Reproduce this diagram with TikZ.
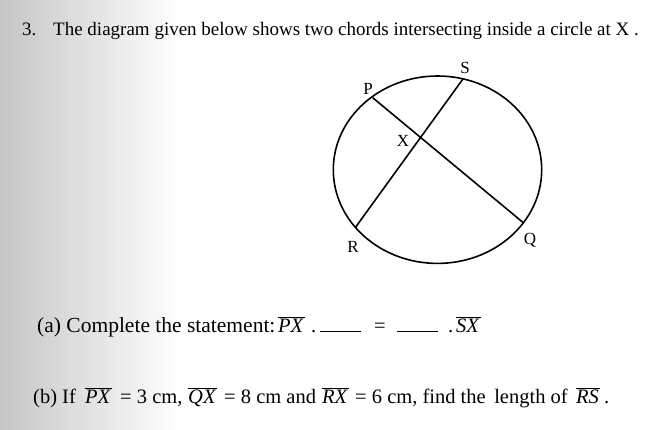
\documentclass[tikz,border=0pt]{standalone}
\usepackage{fontspec}
\setmainfont{Liberation Serif}
\usetikzlibrary{positioning}
\tikzstyle{chord} = [line width=1.6pt]
\tikzstyle{ptlabel} = [inner sep=0pt, font=\fontsize{17}{17}\selectfont]
\tikzstyle{txt} = [anchor=base west, inner sep=0pt, font=\fontsize{19}{21}\selectfont]
\tikzstyle{part} = [anchor=base west, inner sep=0pt, font=\fontsize{20.5}{23}\selectfont]
\newcommand{\seg}[1]{$\overline{\mbox{\textit{#1}\kern1pt}}$}
\newcommand{\blank}{\rule{41pt}{1.2pt}}

\begin{document}
\begin{tikzpicture}[x=1pt, y=-1pt]
    \useasboundingbox (0,0) rectangle (656,429);
    % shadow of the photo on the left
    \shade[left color=gray!45, right color=white] (0,0) rectangle (180,429);

    % Question
    \node[txt] (num) at (22,35) {3.};
    \node[txt] (quest) at (53,35) {The diagram given below shows two chords intersecting inside a circle at X .};

    % Define points on the circle
    \coordinate (C) at (437.5,169.7);
    \coordinate (P) at (372.7,97.7);
    \coordinate (S) at (462.7,79.3);
    \coordinate (R) at (355.5,227.3);
    \coordinate (Q) at (523.3,222.7);
    \coordinate (X) at (intersection of P--Q and R--S);

    % Circle and chords
    \draw[chord] (C) ellipse [x radius=104.2, y radius=93.7];
    \draw[chord] (P) -- (Q);
    \draw[chord] (R) -- (S);

    % Point labels
    \node[ptlabel] (lP) at (368,89) {P};
    \node[ptlabel] (lS) at (465,68) {S};
    \node[ptlabel] (lX) at (403,141) {X};
    \node[ptlabel] (lR) at (353,247) {R};
    \node[ptlabel] (lQ) at (530,240) {Q};

    % Part (a)
    \node[part, font=\fontsize{21.5}{23}\selectfont] (a1) at (37,332) {(a) Complete the statement:};
    \node[part] (a1s) at (278,332) {\seg{PX}};
    \node[part] (a2) at (311,332) {.};
    \node[part] (a3) at (320,332) {\blank};
    \node[part] (a4) at (374,332) {=};
    \node[part] (a5) at (397,332) {\blank};
    \node[part] (a6) at (448,332) {.};
    \node[part] (a7) at (456,332) {\seg{SX}};

    % Part (b)
    \node[part] (b1) at (33,403) {(b) If};
    \node[part] (b2) at (85,403) {\seg{PX}};
    \node[part] (b3) at (120,403) {= 3 cm,};
    \node[part] (b4) at (188,403) {\seg{QX}};
    \node[part] (b5) at (224,403) {= 8 cm and};
    \node[part] (b6) at (322,403) {\seg{RX}};
    \node[part] (b7) at (355,403) {= 6 cm, find the\, length of};
    \node[part] (b8) at (576,403) {\seg{RS}};
    \node[part] (b9) at (604,403) {.};
\end{tikzpicture}
\end{document}
